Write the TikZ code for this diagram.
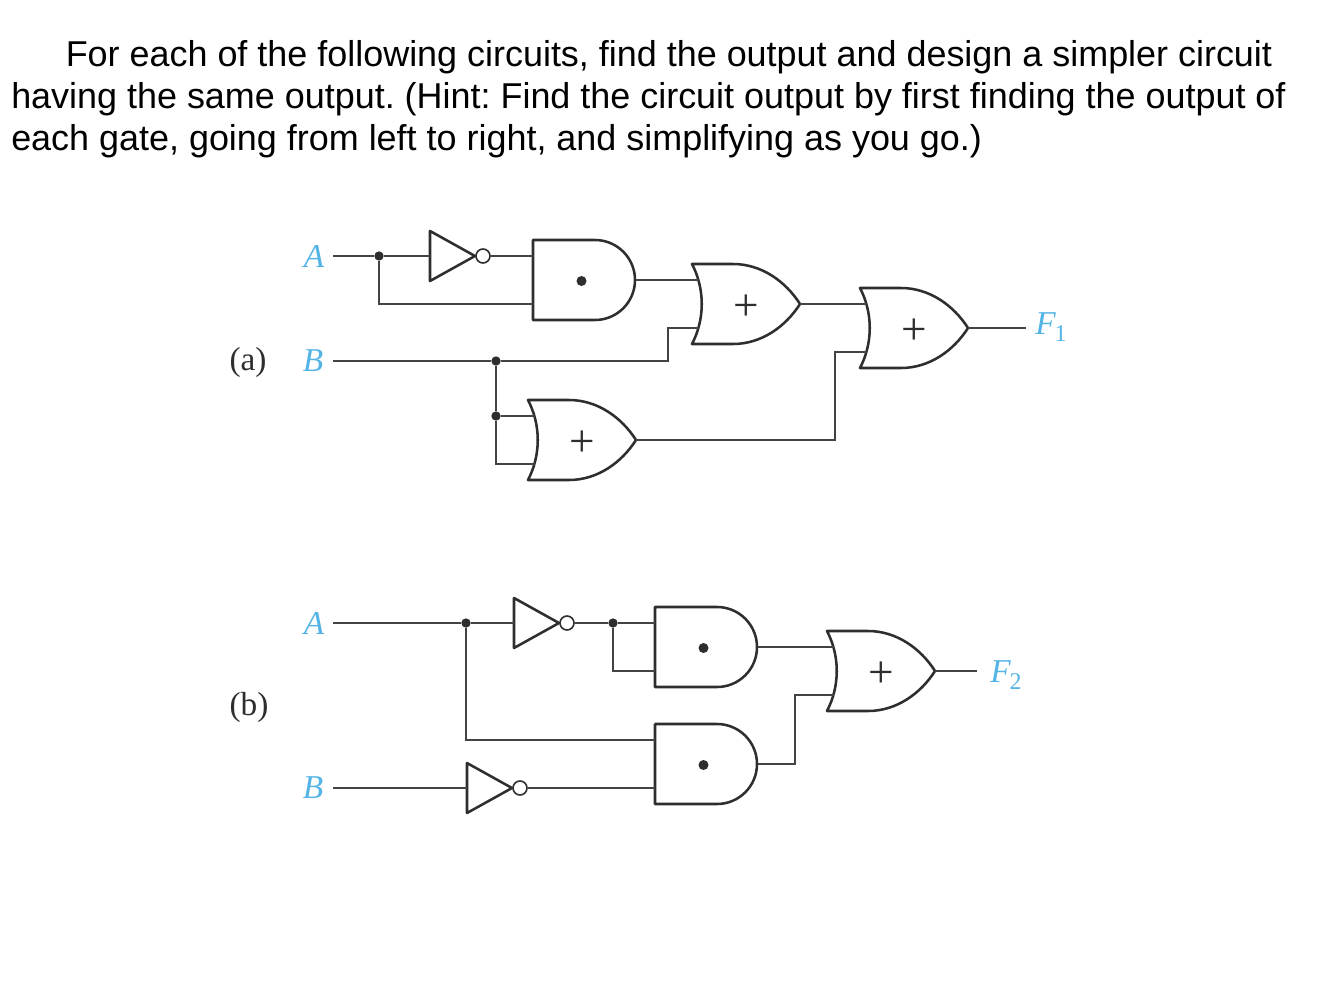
\documentclass[tikz,border=0pt]{standalone}
\usepackage{fontspec}
\setmainfont{Liberation Sans}
\newfontfamily\labserif{Liberation Serif}
\usetikzlibrary{calc}
\definecolor{ink}{HTML}{2E2E2E}
\definecolor{labblue}{HTML}{55B4E6}
\tikzset{
  gatebody/.style={draw=ink,line width=1.9pt,line join=round,fill=white},
  wire/.style={draw=ink!90,line width=1.25pt},
  junction/.style={circle,fill=ink,inner sep=0pt,minimum size=7pt},
  bubble/.style={circle,draw=ink,line width=1.2pt,fill=white,inner sep=0pt,minimum size=10.5pt},
  prose/.style={anchor=base west,inner sep=0pt,font=\frenchspacing\fontsize{26.95}{32}\selectfont,text=black},
  signal/.style={anchor=center,inner sep=0pt,text=labblue,font=\labserif\itshape\fontsize{25}{28}\selectfont},
  caselabel/.style={anchor=center,inner sep=0pt,text=ink,font=\labserif\fontsize{25}{28}\selectfont},
  opmark/.style={anchor=center,inner sep=0pt,text=ink,font=\labserif\fontsize{34}{36}\selectfont},
  dotmark/.style={circle,fill=ink,inner sep=0pt,minimum size=7.5pt},
}
% name, left x, centre y
\newcommand{\AndGate}[3]{%
  \draw[gatebody] (#2,#3-40) -- (#2+62,#3-40) arc[start angle=90,end angle=-90,radius=40*0.75pt] -- (#2,#3+40) -- cycle;
  \coordinate (#1-in1) at (#2,#3-24);
  \coordinate (#1-in2) at (#2,#3+24);
  \coordinate (#1-out) at (#2+103,#3);
  \node[dotmark] (#1-mark) at (#2+48.5,#3+1) {};
}
\newcommand{\OrGate}[3]{%
  \draw[gatebody] (#2,#3-40) -- (#2+41,#3-40) .. controls (#2+70,#3-40) and (#2+94,#3-22) .. (#2+108,#3)
     .. controls (#2+94,#3+22) and (#2+70,#3+40) .. (#2+41,#3+40) -- (#2,#3+40)
     .. controls (#2+13,#3+15) and (#2+13,#3-15) .. (#2,#3-40) -- cycle;
  \coordinate (#1-in1) at (#2+7,#3-24);
  \coordinate (#1-in2) at (#2+7,#3+24);
  \coordinate (#1-out) at (#2+108,#3);
  \node[opmark] (#1-mark) at (#2+54.5,#3+4) {+};
}
% name, left x, centre y
\newcommand{\NotGate}[3]{%
  \draw[gatebody] (#2,#3-25) -- (#2+45,#3) -- (#2,#3+25) -- cycle;
  \coordinate (#1-in) at (#2,#3);
  \node[bubble] (#1-bub) at (#2+53,#3) {};
  \coordinate (#1-out) at (#1-bub.east);
}
\begin{document}
\begin{tikzpicture}[x=0.75pt,y=-0.75pt]
\useasboundingbox (0,0) rectangle (1335,992);
\node[prose] (line1) at (65.5,66) {For each of the following circuits, find the output and design a simpler circuit};
\node[prose] (line2) at (11,108) {having the same output. (Hint: Find the circuit output by first finding the output of};
\node[prose] (line3) at (11,150) {each gate, going from left to right, and simplifying as you go.)};

% circuit (a)
\node[caselabel] (casea) at (248,362) {(a)};
\node[signal] (Aa) at (314,256) {A};
\node[signal] (Ba) at (313,361) {B};
\coordinate (Aas) at (333,256);
\coordinate (Bas) at (333,361);
\NotGate{na}{430}{256}
\AndGate{aa}{533}{280}
\OrGate{oa}{692}{304}
\OrGate{ob}{860}{328}
\OrGate{oc}{528}{440}
\node[junction] (ja) at (379,256) {};
\node[junction] (jb) at (496,361) {};
\node[junction] (jc) at (496,416) {};
\coordinate (ka) at (668,361);
\coordinate (kb) at (835,440);
\coordinate (Fas) at (1026,328);
\node[signal] (Fa) at (1051,327) {F\kern-1pt\raisebox{-5pt}{\labserif\upshape\fontsize{18}{20}\selectfont 1}};
\draw[wire] (Aas) -- (ja) -- (na-in);
\draw[wire] (na-out) -- (na-out -| aa-in1);
\draw[wire] (ja) |- (aa-in2);
\draw[wire] (aa-out) -- (aa-out -| oa-in1);
\draw[wire] (Bas) -- (jb) -- (ka) |- (oa-in2);
\draw[wire] (jb) -- (jc) |- (oc-in2);
\draw[wire] (jc) -- (oc-in1);
\draw[wire] (oa-out) -- (oa-out -| ob-in1);
\draw[wire] (oc-out) -- (kb) |- (ob-in2);
\draw[wire] (ob-out) -- (Fas);

% circuit (b)
\node[caselabel] (caseb) at (249,707) {(b)};
\node[signal] (Ab) at (314,623) {A};
\node[signal] (Bb) at (313,788) {B};
\coordinate (Abs) at (333,623);
\coordinate (Bbs) at (333,788);
\NotGate{nc}{514}{623}
\NotGate{nd}{467}{788}
\AndGate{ab}{655}{647}
\AndGate{ac}{655}{764}
\OrGate{od}{827}{671}
\node[junction] (jd) at (466,623) {};
\node[junction] (je) at (613,623) {};
\coordinate (kc) at (795,764);
\coordinate (Fbs) at (977,671);
\node[signal] (Fb) at (1006,675) {F\kern-1pt\raisebox{-5pt}{\labserif\upshape\fontsize{18}{20}\selectfont 2}};
\draw[wire] (Abs) -- (jd) -- (nc-in);
\draw[wire] (nc-out) -- (je) -- (ab-in1);
\draw[wire] (je) |- (ab-in2);
\draw[wire] (jd) |- (ac-in1);
\draw[wire] (Bbs) -- (nd-in);
\draw[wire] (nd-out) -- (nd-out -| ac-in2);
\draw[wire] (ab-out) -- (ab-out -| od-in1);
\draw[wire] (ac-out) -- (kc) |- (od-in2);
\draw[wire] (od-out) -- (Fbs);
\end{tikzpicture}
\end{document}
